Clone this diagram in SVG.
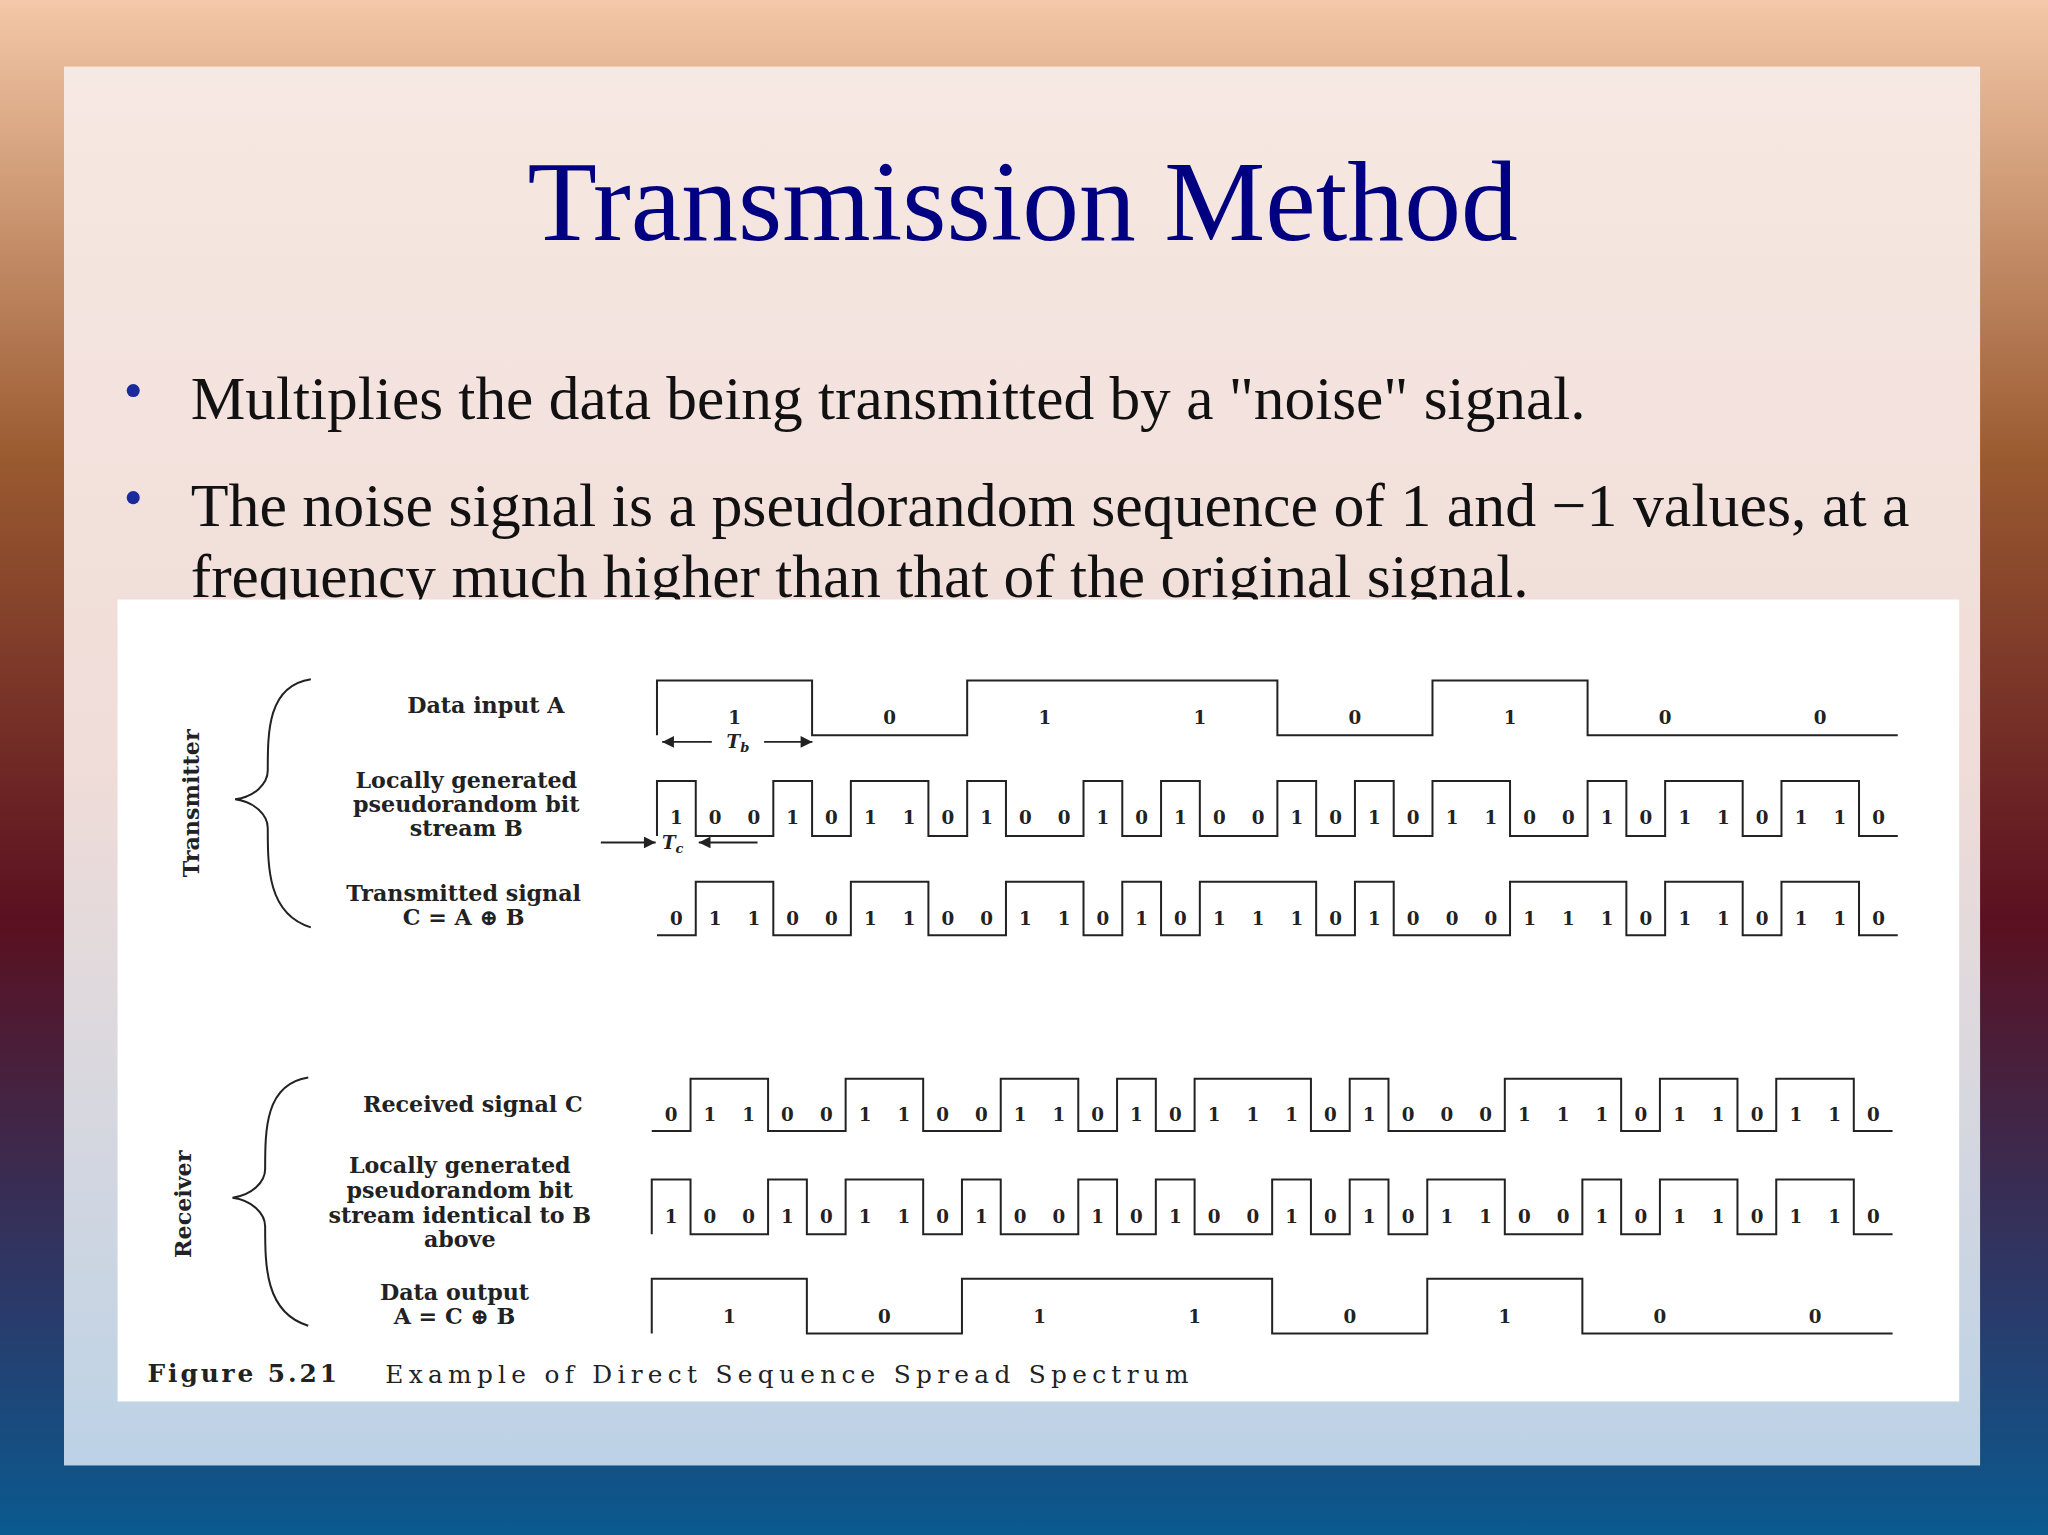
<svg xmlns="http://www.w3.org/2000/svg" width="2048" height="1535" viewBox="0 0 2048 1535">
<defs>
<linearGradient id="bg" x1="0" y1="0" x2="0" y2="1">
<stop offset="0" stop-color="#f4c8a8"/><stop offset="0.3" stop-color="#9a5a30"/><stop offset="0.6" stop-color="#5a1020"/><stop offset="0.85" stop-color="#2a3a6a"/><stop offset="1" stop-color="#0a5a90"/>
</linearGradient>
<linearGradient id="panel" x1="0" y1="0" x2="0" y2="1">
<stop offset="0" stop-color="#f6e8e2"/><stop offset="0.5" stop-color="#f0dcd8"/><stop offset="1" stop-color="#bcd2e6"/>
</linearGradient>
<marker id="ar" viewBox="0 0 10 10" refX="10" refY="5" markerWidth="8" markerHeight="6" orient="auto-start-reverse"><path d="M0,0 L10,5 L0,10 z" fill="#222"/></marker>
<style>
.w{fill:none;stroke:#222;stroke-width:2;vector-effect:non-scaling-stroke}
.b{font-family:"DejaVu Serif",serif;font-weight:bold;font-size:17px;fill:#222;text-anchor:middle}
.c{font-family:"DejaVu Serif",serif;font-weight:bold;font-size:14px;fill:#222;text-anchor:middle}
.bl{font-family:"Liberation Serif",serif;font-size:47px;fill:#111}
</style>
</defs>
<rect width="2048" height="1535" fill="url(#bg)"/>
<g transform="scale(1.30612)">
<rect x="49" y="51" width="1467" height="1071" fill="url(#panel)"/>
<text x="783" y="184" font-family="Liberation Serif,serif" font-size="87" fill="#000080" text-anchor="middle">Transmission Method</text>
<g class="bl">
<circle cx="102" cy="299" r="5" fill="#1a2a9a"/>
<text x="146" y="321">Multiplies the data being transmitted by a "noise" signal.</text>
<circle cx="102" cy="381" r="5" fill="#1a2a9a"/>
<text x="146" y="403" textLength="1316" lengthAdjust="spacingAndGlyphs">The noise signal is a pseudorandom sequence of 1 and −1 values, at a</text>
<text x="146" y="457">frequency much higher than that of the original signal.</text>
</g>
<rect x="90" y="459" width="1410" height="614" fill="#fff"/>
<g id="labels">
<text class="b" transform="translate(152,615) rotate(-90)">Transmitter</text>
<text class="b" transform="translate(146,922) rotate(-90)">Receiver</text>
<text class="b" x="372" y="546">Data input A</text>
<text class="b" x="357" y="603">Locally generated</text>
<text class="b" x="357" y="622">pseudorandom bit</text>
<text class="b" x="357" y="640">stream B</text>
<text class="b" x="355" y="690">Transmitted signal</text>
<text class="b" x="355" y="708">C = A ⊕ B</text>
<text class="b" x="362" y="851">Received signal C</text>
<text class="b" x="352" y="898">Locally generated</text>
<text class="b" x="352" y="917">pseudorandom bit</text>
<text class="b" x="352" y="936">stream identical to B</text>
<text class="b" x="352" y="955">above</text>
<text class="b" x="348" y="995">Data output</text>
<text class="b" x="348" y="1014">A = C ⊕ B</text>
<text class="b" x="113" y="1058" style="text-anchor:start;font-size:19px" textLength="145">Figure 5.21</text>
<text class="b" x="295" y="1059" style="text-anchor:start;font-size:19px;font-weight:normal" textLength="615">Example of Direct Sequence Spread Spectrum</text>
</g>
<g id="connectors">
<path class="w" d="M238,520 C205,525 205,560 205,590 C205,600 195,610 180,612 C195,614 205,624 205,634 C205,664 205,700 238,710"/>
<path class="w" d="M236,825 C203,830 203,865 203,895 C203,905 193,915 178,917 C193,919 203,929 203,939 C203,969 203,1005 236,1015"/>
<g transform="translate(503,521) scale(29.6875,42)"><path class="w" d="M0,1 V0 H4 V1 H8 V0 H16 V1 H20 V0 H24 V1 H32"/></g>
<g transform="translate(503,598) scale(29.6875,42)"><path class="w" d="M0,1 V0 H1 V1 H3 V0 H4 V1 H5 V0 H7 V1 H8 V0 H9 V1 H11 V0 H12 V1 H13 V0 H14 V1 H16 V0 H17 V1 H18 V0 H19 V1 H20 V0 H22 V1 H24 V0 H25 V1 H26 V0 H28 V1 H29 V0 H31 V1 H32"/></g>
<g transform="translate(503,675) scale(29.6875,41)"><path class="w" d="M0,1 H1 V0 H3 V1 H5 V0 H7 V1 H9 V0 H11 V1 H12 V0 H13 V1 H14 V0 H17 V1 H18 V0 H19 V1 H22 V0 H25 V1 H26 V0 H28 V1 H29 V0 H31 V1 H32"/></g>
<g transform="translate(499,826) scale(29.6875,40)"><path class="w" d="M0,1 H1 V0 H3 V1 H5 V0 H7 V1 H9 V0 H11 V1 H12 V0 H13 V1 H14 V0 H17 V1 H18 V0 H19 V1 H22 V0 H25 V1 H26 V0 H28 V1 H29 V0 H31 V1 H32"/></g>
<g transform="translate(499,903) scale(29.6875,42)"><path class="w" d="M0,1 V0 H1 V1 H3 V0 H4 V1 H5 V0 H7 V1 H8 V0 H9 V1 H11 V0 H12 V1 H13 V0 H14 V1 H16 V0 H17 V1 H18 V0 H19 V1 H20 V0 H22 V1 H24 V0 H25 V1 H26 V0 H28 V1 H29 V0 H31 V1 H32"/></g>
<g transform="translate(499,979) scale(29.6875,42)"><path class="w" d="M0,1 V0 H4 V1 H8 V0 H16 V1 H20 V0 H24 V1 H32"/></g>
<line x1="545" y1="568" x2="507" y2="568" stroke="#222" stroke-width="1.5" marker-end="url(#ar)"/>
<line x1="585" y1="568" x2="622" y2="568" stroke="#222" stroke-width="1.5" marker-end="url(#ar)"/>
<line x1="460" y1="645" x2="502" y2="645" stroke="#222" stroke-width="1.5" marker-end="url(#ar)"/>
<line x1="580" y1="645" x2="535" y2="645" stroke="#222" stroke-width="1.5" marker-end="url(#ar)"/>
</g>
<g id="bits">
<text class="c" font-style="italic" x="565" y="573">T<tspan font-size="10" dy="3">b</tspan></text>
<text class="c" font-style="italic" x="515" y="650">T<tspan font-size="10" dy="3">c</tspan></text>
<text class="c" x="562.4 681.1 799.9 918.6 1037.4 1156.1 1274.9 1393.6" y="554">10110100</text>
<text class="c" x="517.8 547.5 577.2 606.9 636.6 666.3 696.0 725.7 755.3 785.0 814.7 844.4 874.1 903.8 933.5 963.2 992.9 1022.6 1052.3 1082.0 1111.7 1141.4 1171.1 1200.8 1230.5 1260.2 1289.9 1319.5 1349.2 1378.9 1408.6 1438.3" y="631">10010110100101001010110010110110</text>
<text class="c" x="517.8 547.5 577.2 606.9 636.6 666.3 696.0 725.7 755.3 785.0 814.7 844.4 874.1 903.8 933.5 963.2 992.9 1022.6 1052.3 1082.0 1111.7 1141.4 1171.1 1200.8 1230.5 1260.2 1289.9 1319.5 1349.2 1378.9 1408.6 1438.3" y="708">01100110011010111010001110110110</text>
<text class="c" x="513.8 543.5 573.2 602.9 632.6 662.3 692.0 721.7 751.3 781.0 810.7 840.4 870.1 899.8 929.5 959.2 988.9 1018.6 1048.3 1078.0 1107.7 1137.4 1167.1 1196.8 1226.5 1256.2 1285.9 1315.5 1345.2 1374.9 1404.6 1434.3" y="858">01100110011010111010001110110110</text>
<text class="c" x="513.8 543.5 573.2 602.9 632.6 662.3 692.0 721.7 751.3 781.0 810.7 840.4 870.1 899.8 929.5 959.2 988.9 1018.6 1048.3 1078.0 1107.7 1137.4 1167.1 1196.8 1226.5 1256.2 1285.9 1315.5 1345.2 1374.9 1404.6 1434.3" y="936">10010110100101001010110010110110</text>
<text class="c" x="558.4 677.1 795.9 914.6 1033.4 1152.1 1270.9 1389.6" y="1013">10110100</text>
</g>
</g>
</svg>
